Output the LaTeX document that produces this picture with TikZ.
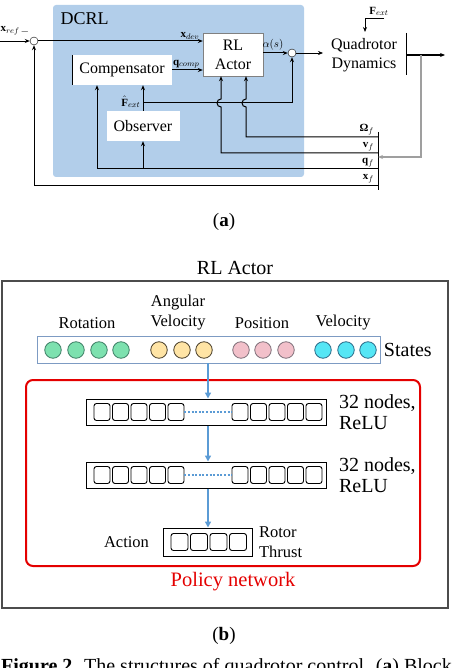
\documentclass[tikz,border=0pt]{standalone}
\usepackage{amsmath}
\usepackage{fontspec}
\setmainfont{Liberation Serif}
\usetikzlibrary{positioning,arrows.meta,calc}

\definecolor{dcrlblue}{RGB}{178,206,234}
\definecolor{flowblue}{RGB}{91,155,213}
\definecolor{statebd}{RGB}{125,155,195}
\definecolor{rotfill}{RGB}{125,225,175}
\definecolor{rotline}{RGB}{60,125,100}
\definecolor{angfill}{RGB}{255,228,165}
\definecolor{angline}{RGB}{70,60,40}
\definecolor{posfill}{RGB}{242,192,202}
\definecolor{posline}{RGB}{125,110,120}
\definecolor{velfill}{RGB}{85,230,245}
\definecolor{velline}{RGB}{40,105,135}
\definecolor{polred}{RGB}{228,0,0}

\begin{document}
\begin{tikzpicture}[x=1pt, y=-1pt, >={Stealth[length=5pt,width=4pt]},
  blk/.style={fill=white, font=\fontsize{16}{19}\selectfont, align=center, inner sep=0pt},
  sumc/.style={circle, draw, fill=white, minimum size=8pt, inner sep=0pt},
  sig/.style={font=\fontsize{11}{12}\selectfont, inner sep=1pt},
  wire/.style={line width=1pt},
  lab/.style={font=\fontsize{16.5}{20}\selectfont},
  big/.style={font=\fontsize{20}{21}\selectfont},
  unit/.style={draw, rounded corners=2.5pt, line width=0.9pt, minimum width=16pt, minimum height=17pt, inner sep=0pt},
  layer/.style={draw, line width=1pt, minimum width=240pt, minimum height=26pt, inner sep=0pt},
  st/.style={circle, line width=0.8pt, minimum size=16.5pt, inner sep=0pt},
  flow/.style={draw=flowblue, line width=2pt, -{Triangle[length=6pt,width=6pt]}},
]
  \useasboundingbox (0,0) rectangle (474,668);
  \clip (0,0) rectangle (474,668);

  % (a) block diagram
  \fill[dcrlblue, rounded corners=3pt] (53,5) rectangle (304,177);
  \node[anchor=west, font=\fontsize{18}{20}\selectfont] (dcrl) at (57,19) {DCRL};

  \node[sumc] (s1) at (34,41) {};
  \node[blk, draw=gray, minimum width=60pt, minimum height=43pt] (rl) at (233,54.5) {RL\\Actor};
  \node[blk, minimum width=100pt, minimum height=30pt] (comp) at (122,70) {Compensator};
  \draw (comp.north west) -- (comp.south west);
  \node[blk, minimum width=73pt, minimum height=30pt] (obs) at (143,126) {Observer};
  \node[sumc] (s2) at (292,53) {};
  \node[font=\fontsize{16}{19}\selectfont, align=center] (quad) at (364,55) {Quadrotor\\Dynamics};
  \coordinate (bartop) at (406,33);
  \coordinate (barbot) at (406,75);
  \draw[wire] (bartop) -- (barbot);
  \coordinate (qout) at (406,55);
  \coordinate (yout) at (445,55);
  \coordinate (fbtop) at (378,132);
  \coordinate (fbbot) at (378,190);
  \draw[wire] (fbtop) -- (fbbot);

  % inputs and forward path
  \coordinate (xin) at (0,41);
  \draw[line width=0.8pt,->] (xin) -- (s1.west);
  \node[sig] (xref) at (10,31) {$\mathbf{x}_{ref}$};
  \node[sig] (minus) at (25,32) {$-$};
  \draw[wire,->] (s1.east) -- (s1.east -| rl.west) node[sig, above left=0pt and 2pt] {$\mathbf{x}_{dev}$};
  \draw[wire,->] (comp.east) -- (comp.east -| rl.west) node[sig, above left=0pt and 2pt] {$\mathbf{q}_{comp}$};
  \draw[wire,->] (rl.east |- s2) -- (s2.west) node[sig, above left=1pt and 3pt] {$\alpha(s)$};
  \draw[line width=0.6pt,->] (s2.east) -- (323,53);
  \draw[line width=1.2pt,->] (qout) -- (yout);
  \coordinate (fext) at (384,18);
  \draw[line width=0.8pt,->] (fext) -| (365,32);
  \node[sig, anchor=south] at (379,17) {$\mathbf{F}_{ext}$};
  \draw[gray!75, line width=2pt,->] (421,55) |- (378,157);

  % observer
  \draw[line width=0.8pt,->] (obs.north) -- (obs.north |- comp.south);
  \node[sig, inner sep=0pt, anchor=east] (fhat) at (140.5,102) {$\hat{\mathbf{F}}_{ext}$};
  \draw[wire,->] (143,103) -- (292,103) -- (s2.south);

  % feedback
  \draw[wire,->] (378,137) -- (246,137) -- (246,107) arc[start angle=90, end angle=270, radius=4] -- (rl.south -| 246,0);
  \draw[wire,->] (378,153) -- (221,153) -- (221,107) arc[start angle=90, end angle=270, radius=4] -- (rl.south -| 221,0);
  \draw[wire] (378,169) -- (97,169);
  \draw[wire,->] (97,169) -- (comp.south -| 97,0);
  \draw[line width=0.8pt,->] (obs.south |- 0,169) -- (obs.south);
  \draw[line width=0.8pt,->] (378,185) -| (s1.south);
  \node[sig, anchor=south east] at (375,136) {$\text{\textbf{Ω}}_f$};
  \node[sig, anchor=south east] at (375,152) {$\mathbf{v}_f$};
  \node[sig, anchor=south east] at (375,168) {$\mathbf{q}_f$};
  \node[sig, anchor=south east] at (375,184) {$\mathbf{x}_f$};

  \node[font=\fontsize{19}{20}\selectfont] (capa) at (224,222) {(\textbf{a})};

  % (b) RL actor
  \node[big] (rltitle) at (235,268) {RL Actor};
  \draw[gray!60!black, line width=1.2pt] (2,281) rectangle (448,608);

  \node[lab] (rot) at (87,323) {Rotation};
  \node[lab, align=center] (ang) at (178,313) {Angular\\Velocity};
  \node[lab] (pos) at (262,323) {Position};
  \node[lab] (vel) at (343,323) {Velocity};

  \node[draw=statebd, fill=white, line width=0.8pt, minimum width=343pt, minimum height=27pt, inner sep=0pt] (states) at (208.5,349.5) {};
  \foreach \cx in {53,76,99,121} \node[st, fill=rotfill, draw=rotline] at (\cx,350) {};
  \foreach \cx in {159,182,204} \node[st, fill=angfill, draw=angline] at (\cx,350) {};
  \foreach \cx in {241,263,286} \node[st, fill=posfill, draw=posline] at (\cx,350) {};
  \foreach \cx in {323,346,368} \node[st, fill=velfill, draw=velline] at (\cx,350) {};
  \node[big, right=0pt of states] (stlab) {States};

  \draw[polred, line width=2pt, rounded corners=7pt] (26,380) rectangle (420,566);

  \node[layer] (l1) at (206,412) {};
  \node[layer] (l2) at (206,475) {};
  \foreach \i in {0,...,4} {
    \node[unit] (a\i) at ({102+18.5*\i},412) {};
    \node[unit] (b\i) at ({240+18.5*\i},412) {};
    \node[unit] (c\i) at ({102+18.5*\i},475) {};
    \node[unit] (d\i) at ({240+18.5*\i},475) {};
  }
  \draw[flowblue, line width=1.4pt, dash pattern=on 2pt off 1.6pt] (a4.east) -- (b0.west);
  \draw[flowblue, line width=1.4pt, dash pattern=on 2pt off 1.6pt] (c4.east) -- (d0.west);
  \node[big, align=left, anchor=west] (l1lab) at ([xshift=9pt]l1.east) {32 nodes,\\ReLU};
  \node[big, align=left, anchor=west] (l2lab) at ([xshift=9pt]l2.east) {32 nodes,\\ReLU};

  \node[layer, minimum width=89pt, minimum height=28pt] (act) at (207.5,542) {};
  \foreach \i in {0,...,3} \node[unit, minimum width=17pt] (e\i) at ({179.5+19.5*\i},542) {};
  \node[lab, left=10pt of act] (actlab) {Action};
  \node[lab, align=left, right=3pt of act] (thrust) {Rotor\\Thrust};

  \draw[flow] (states.south -| 208,0) -- (l1.north -| 208,0);
  \draw[flow] (l1.south -| 208,0) -- (l2.north -| 208,0);
  \draw[flow] (l2.south -| 208,0) -- (act.north -| 208,0);

  \node[big, text=polred, font=\fontsize{20.5}{22}\selectfont] (pol) at (233,582) {Policy network};

  \node[font=\fontsize{19}{20}\selectfont] (capb) at (224,636) {(\textbf{b})};
  \node[anchor=base west, inner sep=0pt, font=\fontsize{20}{22}\selectfont] (cap) at (1,672) {\textbf{Figure 2.} The structures of quadrotor control. (\textbf{a}) Block};
\end{tikzpicture}
\end{document}
